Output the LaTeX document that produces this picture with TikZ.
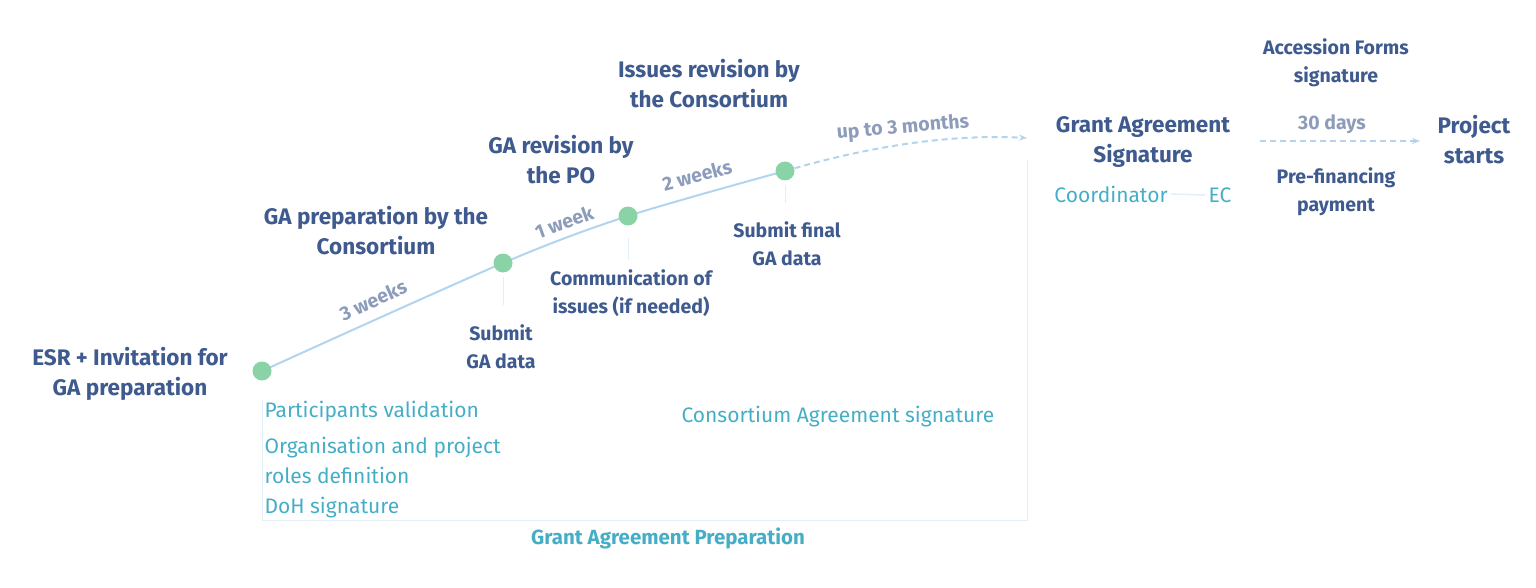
\documentclass[tikz,border=0pt]{standalone}
\usepackage{fontspec}
\setmainfont{Fira Sans}
\usetikzlibrary{arrows.meta}
\definecolor{dblue}{HTML}{3E5A8E}
\definecolor{teal}{HTML}{45AEC6}
\definecolor{gblue}{HTML}{8C9CBA}
\definecolor{lline}{HTML}{B3D4EE}
\definecolor{dotc}{HTML}{8AD3A6}
\definecolor{frame}{HTML}{E3EEF6}
\tikzset{
 head/.style={font=\fontsize{22.5}{30}\selectfont\bfseries, text=dblue, align=center},
 sub/.style={font=\fontsize{19.5}{28}\selectfont\bfseries, text=dblue, align=center},
 item/.style={font=\fontsize{21}{30}\selectfont, text=teal, align=left, anchor=west},
 dur/.style={font=\fontsize{19.5}{22}\selectfont\bfseries, text=gblue},
 dotn/.style={circle, fill=dotc, inner sep=0pt, minimum size=19pt},
 tick/.style={draw=frame, line width=0.8pt}
}
\begin{document}
\begin{tikzpicture}[x=1pt,y=-1pt]
\useasboundingbox (0,0) rectangle (1536,588);
\draw[frame, line width=1pt] (262,400) -- (262,520) -- (1027,520) -- (1027,160);
\draw[lline, line width=2pt] plot[smooth, tension=0.5] coordinates {(262,371) (503,263) (628,216) (785,171)};
\coordinate (e) at (1027,138);
\draw[lline, line width=2pt, dash pattern=on 6pt off 4pt, -{Stealth[length=8pt]}] (785,171) .. controls (870,146) and (950,134) .. (e);
\node[dotn] (d1) at (262,371) {};
\node[dotn] (d2) at (503,263) {};
\node[dotn] (d3) at (628,216) {};
\node[dotn] (d4) at (785,171) {};
\draw[tick] (503,277) -- (503,305);
\draw[tick] (628,238) -- (628,260);
\draw[tick] (785,185) -- (785,203);
\node[dur, rotate=24] (w3) at (373,300) {3 weeks};
\node[dur, rotate=20] (w1) at (564,222) {1 week};
\node[dur, rotate=15] (w2) at (697,175) {2 weeks};
\node[dur, rotate=5] (m3) at (903,128) {up to 3 months};
\node[dur] (d30) at (1332,124) {30 days};
\draw[lline, line width=2pt, dash pattern=on 6pt off 4pt, -{Stealth[length=8pt]}] (1260,141) -- (1420,141);
\node[head] (h1) at (130,374) {ESR + Invitation for\\GA preparation};
\node[head] (h2) at (376,231) {GA preparation by the\\Consortium};
\node[head] (h3) at (561,160) {GA revision by\\the PO};
\node[head] (h4) at (709,84) {Issues revision by\\the Consortium};
\node[head] (h5) at (1143,142) {Grant Agreement\\Signature};
\node[head] (h6) at (1474,140) {Project\\starts};
\node[sub] (s1) at (501,347) {Submit\\GA data};
\node[sub] (s2) at (631,293) {Communication of\\issues (if needed)};
\node[sub] (s3) at (787,244) {Submit final\\GA data};
\node[sub] (s4) at (1336,63) {Accession Forms\\signature};
\node[sub] (s5) at (1336,192) {Pre-financing\\payment};
\node[item] (i1) at (261,412) {Participants validation};
\node[item] (i2) at (261,460) {Organisation and project\\roles definition};
\node[item] (i3) at (261,508) {DoH signature};
\node[item] (i4) at (678,417) {Consortium Agreement signature};
\node[font=\fontsize{21}{22}\selectfont, text=teal] (co) at (1111,194) {Coordinator};
\node[font=\fontsize{21}{22}\selectfont, text=teal] (ec) at (1220,195) {EC};
\draw[frame, line width=1.5pt] (co.east) -- (ec.west);
\node[font=\fontsize{20.5}{22}\selectfont\bfseries, text=teal] (gp) at (668,538) {Grant Agreement Preparation};
\end{tikzpicture}
\end{document}
